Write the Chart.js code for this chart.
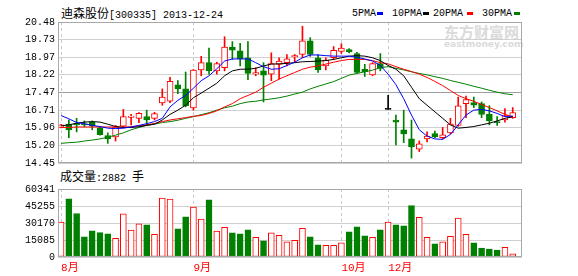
<!DOCTYPE html>
<html lang="zh">
<head>
  <meta charset="UTF-8" />
  <title>迪森股份 K线</title>
  <script src="https://cdn.jsdelivr.net/npm/chart.js"></script>
  <style>
    body {
      margin: 0;
      background: #fff;
      width: 578px;
      height: 276px;
      position: relative;
      overflow: hidden;
    }
    .abs { position: absolute; white-space: nowrap; line-height: 14px; }
    .cjk { font-family: "Noto Sans CJK SC", sans-serif; font-size: 12px; }
    .num { font-family: "Liberation Mono", monospace; font-size: 10px; }
    .dash { position: absolute; width: 6px; height: 3px; }
    canvas { position: absolute; left: 0; }
    #priceChart { top: 0; }
    #volChart { top: 179px; }
    .wm { color: #dadada; font-weight: bold; }
  </style>
</head>
<body>
  <!-- 水印 -->
  <div class="abs wm" style="left:444px; top:23px; font-family:'Noto Sans CJK SC'; font-size:15px; line-height:18px;">东方财富网</div>
  <div class="abs wm" style="left:444px; top:38px; font-family:'DejaVu Sans'; font-size:9px; line-height:12px;">eastmoney.com</div>

  <div class="abs" style="left:61px; top:6px;"><span class="cjk">迪森股份</span><span class="num">[300335] 2013-12-24</span></div>

  <div class="abs num" style="left:352px; top:7px;">5PMA</div>
  <div class="dash" style="left:377px; top:12px; background:#0000ff;"></div>
  <div class="abs num" style="left:392px; top:7px;">10PMA</div>
  <div class="dash" style="left:423px; top:12px; background:#000;"></div>
  <div class="abs num" style="left:433px; top:7px;">20PMA</div>
  <div class="dash" style="left:467px; top:12px; background:#ff0000;"></div>
  <div class="abs num" style="left:482px; top:7px;">30PMA</div>
  <div class="dash" style="left:514px; top:12px; background:#008000;"></div>

  <div class="abs" style="left:60px; top:169px;"><span class="cjk">成交量</span><span class="num">:2882 </span><span class="cjk">手</span></div>

  <canvas id="priceChart" width="578" height="172"></canvas>
  <canvas id="volChart" width="578" height="97"></canvas>

  <script>
    // 日K数据 (2013-08 ~ 2013-12-24)
    const opens  = [15.97,16.10,16.15,16.12,16.20,15.95,15.62,15.56,16.02,16.40,
                    16.36,16.44,16.36,17.02,17.09,17.79,17.62,16.81,18.43,18.74,
                    18.39,18.53,19.41,19.25,18.95,18.25,18.39,18.25,18.67,18.74,
                    18.99,19.09,19.68,18.95,18.60,18.95,19.22,19.30,19.13,18.46,
                    18.22,18.70,16.74,16.29,15.87,15.48,15.04,15.48,15.71,15.53,
                    15.74,16.06,16.99,17.03,16.99,16.53,16.22,16.29,16.39];
    const highs  = [16.10,16.29,16.36,16.25,16.25,16.02,15.74,16.06,16.74,16.53,
                    16.61,16.71,16.62,17.62,18.11,17.97,18.34,18.45,19.01,19.37,
                    18.76,19.85,19.64,19.57,19.64,18.53,18.74,19.16,18.95,19.09,
                    19.09,20.30,19.81,19.09,18.95,19.43,19.55,19.34,19.18,18.67,
                    18.74,19.13,17.34,16.50,16.71,16.29,15.39,15.78,15.81,15.97,
                    16.36,17.27,17.31,17.27,17.06,16.90,16.44,16.78,16.82];
    const lows   = [15.95,15.53,15.78,16.00,15.87,15.64,15.29,15.39,15.95,16.08,
                    16.18,16.08,16.29,16.92,17.03,17.41,16.85,16.71,18.18,18.25,
                    18.25,18.39,18.88,18.60,18.01,18.18,17.06,17.97,18.04,18.60,
                    18.74,18.95,19.01,18.32,18.43,18.88,19.13,19.16,18.29,18.15,
                    18.18,18.39,16.74,15.22,15.32,14.66,14.94,15.35,15.53,15.48,
                    15.69,16.02,16.39,16.82,16.39,16.08,16.06,16.20,16.36];
    const closes = [16.08,15.87,16.08,16.08,16.02,15.66,15.48,15.99,16.44,16.46,
                    16.57,16.29,16.56,17.27,17.94,17.62,16.90,18.42,18.74,18.39,
                    18.70,19.41,19.27,18.90,18.28,18.32,18.21,18.70,18.81,18.90,
                    19.04,19.68,19.09,18.43,18.85,19.27,19.37,19.20,18.32,18.36,
                    18.70,18.49,16.74,16.20,15.69,15.14,15.27,15.60,15.56,15.66,
                    16.11,16.90,17.16,16.92,16.53,16.25,16.18,16.48,16.61];
    const volumes = [30900,51700,38600,17800,23200,21700,20500,16600,38300,23800,
                     29400,28500,20200,52300,51400,24900,35600,44300,33600,50800,
                     22900,26400,21400,20500,24100,17500,14300,21400,19300,13400,
                     14900,25500,17800,10700,10400,10400,12500,22300,26700,18700,
                     17500,24100,30900,28500,27600,45700,35300,17500,11600,13400,
                     18400,34500,20200,12500,8000,7100,6200,8600,2882];

    // 均线
    const ma5  = [16.48,16.34,16.18,16.13,16.06,16.01,15.94,15.92,15.94,15.99,
                  16.06,16.13,16.22,16.36,16.85,17.13,17.34,17.65,17.97,18.18,
                  18.48,18.81,18.90,18.90,18.90,18.74,18.57,18.46,18.48,18.62,
                  18.76,18.95,19.07,19.07,19.04,19.02,19.02,19.02,18.97,18.90,
                  18.81,18.62,18.25,17.80,17.20,16.50,15.87,15.60,15.48,15.46,
                  15.67,16.08,16.50,16.71,16.74,16.68,16.57,16.43,16.46];
    const ma10 = [16.04,16.08,16.15,16.20,16.22,16.20,16.11,16.01,15.97,15.97,
                  16.00,16.06,16.11,16.29,16.53,16.71,16.92,17.24,17.44,17.65,
                  17.86,18.18,18.39,18.46,18.46,18.50,18.60,18.68,18.69,18.71,
                  18.74,18.78,18.79,18.81,18.83,18.88,18.95,19.02,19.04,19.02,
                  18.95,18.83,18.62,18.46,18.18,17.69,17.20,16.92,16.64,16.36,
                  16.08,15.94,15.97,16.01,16.08,16.15,16.25,16.36,16.43];
    const ma20 = [15.97,15.97,15.99,15.99,15.99,15.99,15.99,15.99,15.99,16.00,
                  16.04,16.08,16.14,16.22,16.29,16.34,16.39,16.45,16.48,16.57,
                  16.68,16.85,16.99,17.20,17.34,17.48,17.69,17.86,18.04,18.18,
                  18.32,18.46,18.55,18.60,18.68,18.76,18.83,18.88,18.88,18.88,
                  18.83,18.74,18.69,18.57,18.46,18.36,18.25,18.11,17.94,17.76,
                  17.55,17.34,17.20,17.09,16.95,16.82,16.68,16.53,16.43];
    const ma30 = [15.29,15.32,15.34,15.39,15.43,15.48,15.55,15.64,15.74,15.87,
                  15.97,16.06,16.11,16.18,16.22,16.28,16.36,16.43,16.52,16.60,
                  16.71,16.81,16.88,16.99,17.06,17.09,17.15,17.19,17.24,17.31,
                  17.40,17.48,17.62,17.73,17.83,17.93,18.07,18.21,18.28,18.35,
                  18.42,18.53,18.57,18.50,18.43,18.35,18.28,18.22,18.14,18.07,
                  17.98,17.90,17.82,17.73,17.65,17.56,17.48,17.41,17.37];

    // 坐标刻度
    const priceTicks = [14.45, 15.20, 15.96, 16.71, 17.47, 18.22, 18.97, 19.73, 20.48];
    const volTicks = [0, 15085, 30170, 45255, 60341];
    const monthIdx = [0, 17, 36, 42];
    const monthNames = ['8月', '9月', '10月', '12月'];

    const RED = '#ff0000', GREEN = '#008000', BLUE = '#0000ff', BLACK = '#000000';
    const idx = closes.map((_, i) => i);
    const candleColor = idx.map(i => closes[i] > opens[i] ? RED : (closes[i] < opens[i] ? GREEN : BLACK));
    const bodyFill = idx.map(i => closes[i] > opens[i] ? '#ffffff' : candleColor[i]);
    const volRise = idx.map(i => closes[i] >= opens[i]);

    const monoFont = { family: '"Liberation Mono", monospace', size: 10 };

    // 外框
    const framePlugin = {
      id: 'frame',
      afterDraw(chart) {
        const a = chart.chartArea, ctx = chart.ctx;
        ctx.save();
        ctx.strokeStyle = '#a8a8a8';
        ctx.lineWidth = 1;
        ctx.strokeRect(Math.round(a.left) + 0.5, Math.round(a.top) + 0.5,
                       Math.round(a.right - a.left) - 1, Math.round(a.bottom - a.top) - 1);
        ctx.restore();
      }
    };

    const xBase = {
      type: 'linear',
      offset: false,
      min: -0.39,
      max: 59.19,
      afterBuildTicks: s => { s.ticks = monthIdx.map(v => ({ value: v })); },
      grid: { color: '#c8c8c8', drawTicks: false, offset: false },
      border: { display: false, dash: [3, 3] }
    };

    function lineSet(values, color) {
      return {
        type: 'line',
        data: idx.map(i => ({ x: i, y: values[i] })),
        borderColor: color,
        borderWidth: 1,
        pointRadius: 0,
        tension: 0,
        order: 0
      };
    }

    new Chart(document.getElementById('priceChart'), {
      type: 'bar',
      data: {
        datasets: [
          lineSet(ma5, BLUE),
          lineSet(ma10, BLACK),
          lineSet(ma20, RED),
          lineSet(ma30, GREEN),
          {
            data: idx.map(i => ({ x: i, y: [opens[i], closes[i]] })),
            backgroundColor: bodyFill,
            borderColor: candleColor,
            borderWidth: 1,
            borderSkipped: false,
            barThickness: 6,
            minBarLength: 1,
            grouped: false,
            order: 1
          },
          {
            data: idx.map(i => ({ x: i, y: [lows[i], highs[i]] })),
            backgroundColor: candleColor,
            borderWidth: 0,
            barThickness: 1,
            grouped: false,
            order: 2
          }
        ]
      },
      options: {
        responsive: false,
        animation: false,
        events: [],
        layout: { padding: { top: 22, right: 56, bottom: 6, left: 0 } },
        plugins: { legend: { display: false }, tooltip: { enabled: false } },
        scales: {
          x: Object.assign({}, xBase, {
            ticks: { display: false },
            afterFit: s => { s.height = 0; }
          }),
          y: {
            min: 14.45,
            max: 20.48,
            afterBuildTicks: s => { s.ticks = priceTicks.map(v => ({ value: v })); },
            afterFit: s => { s.width = 58; },
            ticks: {
              autoSkip: false,
              padding: 3,
              color: '#000',
              font: monoFont,
              callback: v => v.toFixed(2)
            },
            grid: {
              drawTicks: false,
              color: c => (c.tick && c.tick.value === 17.47) ? '#a0a0a0' : '#d0d0d0'
            },
            border: { display: false }
          }
        }
      },
      plugins: [framePlugin]
    });

    new Chart(document.getElementById('volChart'), {
      type: 'bar',
      data: {
        datasets: [{
          data: idx.map(i => ({ x: i, y: volumes[i] })),
          backgroundColor: idx.map(i => volRise[i] ? '#ffffff' : GREEN),
          borderColor: idx.map(i => volRise[i] ? RED : GREEN),
          borderWidth: 1,
          borderSkipped: false,
          barThickness: 6,
          grouped: false
        }]
      },
      options: {
        responsive: false,
        animation: false,
        events: [],
        layout: { padding: { top: 10, right: 56, bottom: 0, left: 0 } },
        plugins: { legend: { display: false }, tooltip: { enabled: false } },
        scales: {
          x: Object.assign({}, xBase, {
            afterFit: s => { s.height = 19; },
            ticks: {
              autoSkip: false,
              maxRotation: 0,
              align: 'start',
              padding: 4,
              color: RED,
              font: { family: '"Liberation Mono", "Noto Sans CJK SC", monospace', size: 11 },
              callback: (v, i) => monthNames[i]
            }
          }),
          y: {
            min: 0,
            max: 60341,
            afterBuildTicks: s => { s.ticks = volTicks.map(v => ({ value: v })); },
            afterFit: s => { s.width = 58; },
            ticks: {
              autoSkip: false,
              padding: 3,
              color: '#000',
              font: monoFont,
              callback: v => String(v)
            },
            grid: { drawTicks: false, color: '#d0d0d0' },
            border: { display: false }
          }
        }
      },
      plugins: [framePlugin]
    });
  </script>
</body>
</html>
